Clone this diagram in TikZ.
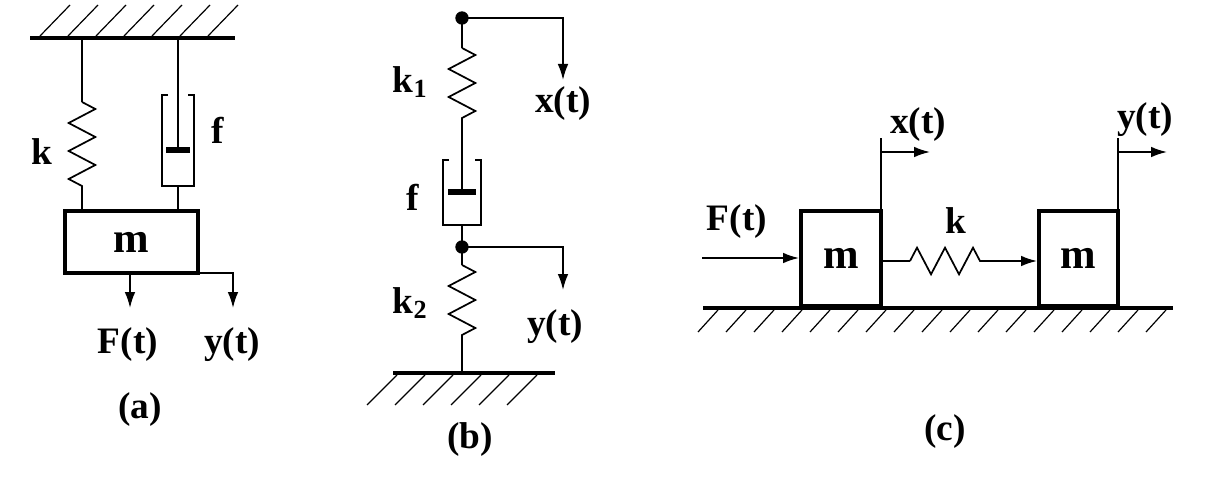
\documentclass[tikz,border=0pt]{standalone}
\usepackage{fontspec}
\setmainfont{Liberation Serif}
\usetikzlibrary{arrows.meta,decorations.pathmorphing}
\begin{document}
\begin{tikzpicture}[x=0.75pt,y=-0.75pt,
  ln/.style={line width=1.3pt},
  thick/.style={line width=3pt},
  mass/.style={draw,line width=3pt,inner sep=0pt,font=\bfseries\fontsize{32}{34}\selectfont},
  lbl/.style={font=\bfseries\fontsize{28}{30}\selectfont,inner sep=0pt},
  spr/.style={ln,decorate,decoration={zigzag,amplitude=10pt,segment length=21pt}},
  arr/.style={ln,-{Latex[length=12pt,width=8pt]}},
  hatch/.style={line width=0.9pt}]
\useasboundingbox (0,0) rectangle (1220,492);
% ===== (a)
\draw[thick] (30,38) -- (235,38);
\foreach \x in {40,68,...,230} \draw[hatch] (\x,36) -- (\x+30,5);
\coordinate (ka) at (82,38); \coordinate (fa) at (178,38);
\node[mass,minimum width=133*0.75pt,minimum height=62*0.75pt] (ma) at (131.5,242) {m};
\draw[ln] (ka) -- (82,102);
\draw[spr] (82,102) -- (82,190);
\draw[ln] (82,190) -- (82,211);
\draw[ln] (fa) -- (178,150);
\draw[line width=4pt] (166,150) -- (190,150);
\draw[line width=2.2pt] (168,95) -- (162,95) -- (162,186) -- (194,186) -- (194,95) -- (188,95);
\draw[ln] (178,186) -- (178,211);
\draw[arr] (130,273) -- (130,308);
\draw[arr] (198,273) -- (233,273) -- (233,308);
\node[lbl] at (42,152) {k};
\node[lbl] at (218,130) {f};
\node[lbl] (Fa) at (128,345) {F(t)};
\node[lbl] (ya) at (232,345) {y(t)};
\node[lbl] at (140,410) {(a)};
% ===== (b)
\coordinate (b1) at (462,18); \coordinate (b2) at (462,247);
\fill (b1) circle (5pt); \fill (b2) circle (5pt);
\draw[arr] (b1) -- (563,18) -- (563,80);
\draw[ln] (b1) -- (462,48);
\draw[spr] (462,48) -- (462,120);
\draw[ln] (462,120) -- (462,192);
\draw[line width=4pt] (448,192) -- (476,192);
\draw[line width=2.2pt] (449,160) -- (443,160) -- (443,225) -- (481,225) -- (481,160) -- (475,160);
\draw[ln] (462,225) -- (b2);
\draw[arr] (b2) -- (563,247) -- (563,290);
\draw[ln] (b2) -- (462,265);
\draw[spr] (462,265) -- (462,340);
\draw[ln] (462,340) -- (462,373);
\draw[thick] (393,373) -- (555,373);
\foreach \x in {395,423,...,540} \draw[hatch] (\x+2,375) -- (\x-28,405);
\node[lbl] at (410,82) {k$_{\mathbf 1}$};
\node[lbl] at (563,104) {x(t)};
\node[lbl] at (413,197) {f};
\node[lbl] at (410,303) {k$_{\mathbf 2}$};
\node[lbl] at (555,327) {y(t)};
\node[lbl] at (470,440) {(b)};
% ===== (c)
\draw[thick] (703,308) -- (1173,308);
\foreach \x in {718,746,...,1170} \draw[hatch] (\x,310) -- (\x-20,332);
\node[mass,minimum width=80*0.75pt,minimum height=95*0.75pt] (m1) at (841,258.5) {m};
\node[mass,minimum width=79*0.75pt,minimum height=95*0.75pt] (m2) at (1078.5,258.5) {m};
\draw[ln] (881,211) -- (881,138);
\draw[arr] (881,152) -- (930,152);
\draw[ln] (1118,211) -- (1118,138);
\draw[arr] (1118,152) -- (1167,152);
\draw[arr] (702,258) -- (799,258);
\draw[ln] (881,261) -- (910,261);
\draw[spr] (910,261) -- (986,261);
\draw[arr] (986,261) -- (1037,261);
\node[lbl] at (918,125) {x(t)};
\node[lbl] at (1145,120) {y(t)};
\node[lbl] at (737,222) {F(t)};
\node[lbl] at (956,221) {k};
\node[lbl] at (945,432) {(c)};
\end{tikzpicture}
\end{document}
